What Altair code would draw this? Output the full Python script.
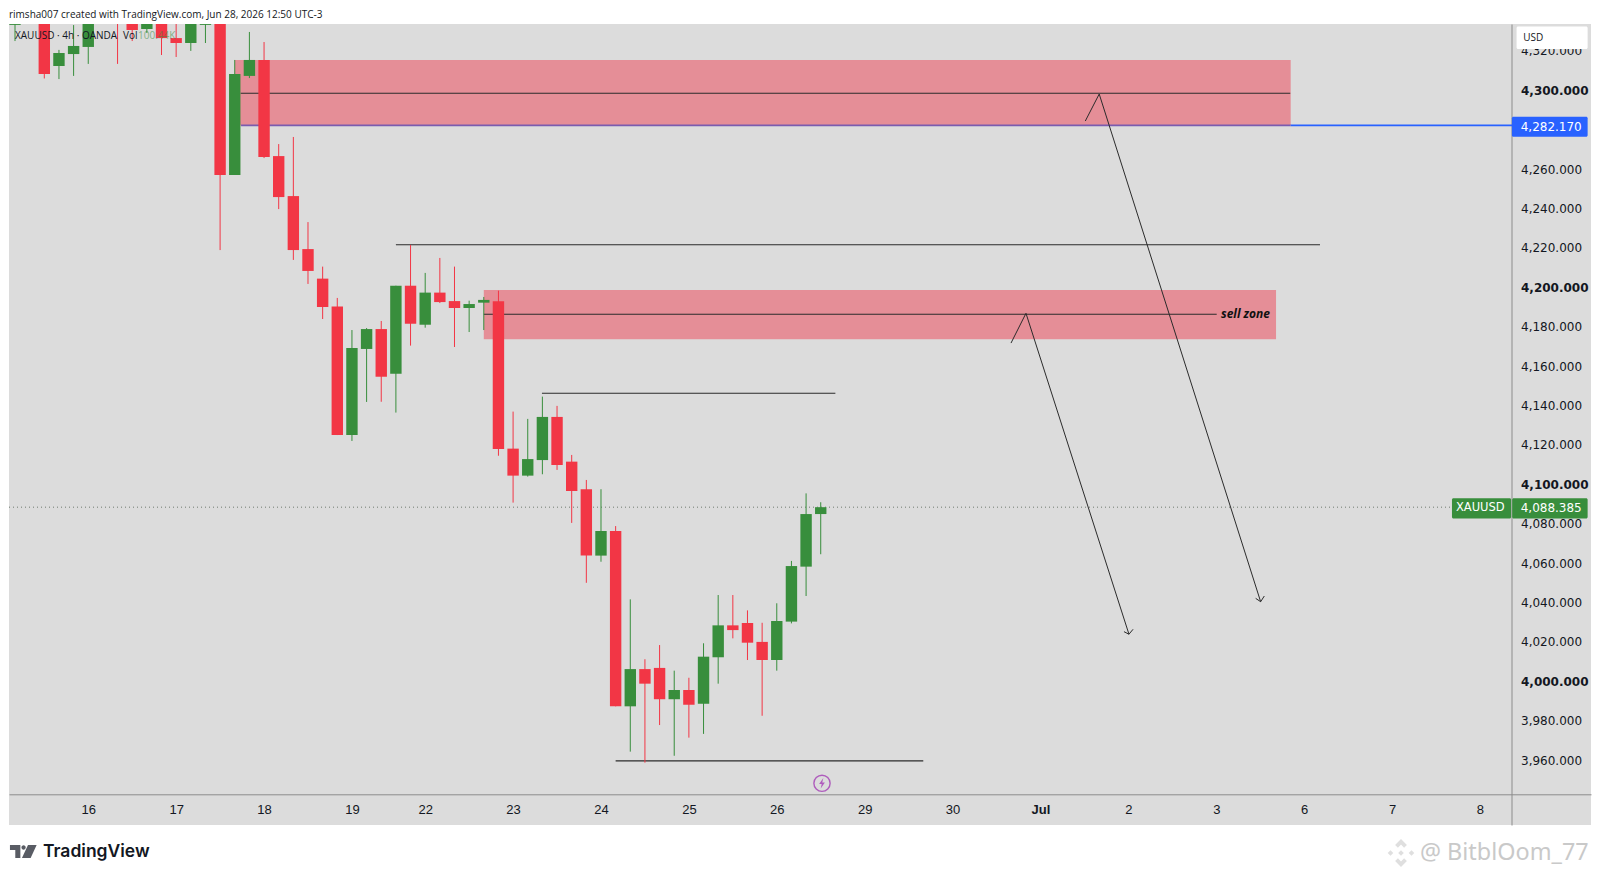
import json
import altair as alt
import pandas as pd

# ---- Candles (4h bars; prices) ----
bars = list(range(56))
opens = [4333.2, 4345, 4350, 4312.3, 4318.4, 4322.0, 4345, 4342, 4338, 4331.1, 4340, 4326.5, 4324.0, 4333.2,
         4345, 4257.0, 4307.3, 4315.4, 4266.6, 4246.3, 4219.4, 4204.4, 4190.2, 4125.0, 4168.7, 4178.8, 4156.1, 4200.8,
         4181.0, 4197.3, 4193.0, 4189.5, 4192.2, 4192.9, 4118.1, 4104.4, 4112.3, 4134.2, 4111.5, 4097.5, 4063.8, 4076.3,
         3987.3, 4006.2, 4006.8, 3990.9, 3995.6, 3988.6, 4012.2, 4028.4, 4029.6, 4020.0, 4010.8, 4030.3, 4058.2, 4084.9]
closes = [4340, 4340, 4308.3, 4318.9, 4322.5, 4338, 4340, 4336, 4330.6, 4338, 4326.5, 4324.0, 4337, 4336,
          4257.0, 4308.3, 4315.4, 4266.1, 4245.8, 4218.9, 4208.3, 4190.0, 4125.0, 4169.2, 4178.8, 4154.6, 4200.8, 4181.5,
          4197.3, 4192.5, 4189.5, 4191.5, 4193.6, 4117.9, 4104.4, 4112.8, 4134.2, 4109.8, 4096.6, 4063.8, 4076.3, 3987.3,
          4006.2, 3998.8, 3990.9, 3995.6, 3988.1, 4012.5, 4028.4, 4026.0, 4019.6, 4010.8, 4030.6, 4058.5, 4084.9, 4088.385]
highs = [4345, 4348, 4355, 4320.5, 4333.1, 4342, 4348, 4345, 4342, 4341, 4344, 4336, 4340, 4339,
         4350, 4315.4, 4329.6, 4324.5, 4272.7, 4276.3, 4233.1, 4210.5, 4194.6, 4178.3, 4179.3, 4182.9, 4200.8, 4221.5,
         4207.3, 4214.9, 4210.5, 4193.2, 4195.1, 4198.3, 4136.9, 4133.2, 4144.5, 4139.8, 4114.9, 4102.2, 4097.5, 4078.8,
         4041.6, 4011.2, 4018.4, 4005.4, 4001.8, 4019.3, 4043.8, 4043.8, 4036.0, 4029.7, 4039.6, 4061.1, 4095.4, 4090.9]
lows = [4325.0, 4336, 4306.0, 4305.7, 4307.3, 4313.4, 4336, 4313.4, 4325.0, 4329.1, 4317.9, 4316.9, 4320.0, 4324.0,
        4218.9, 4257.0, 4306.2, 4265.6, 4239.7, 4213.9, 4201.7, 4183.9, 4125.0, 4122.0, 4141.8, 4141.9, 4136.4, 4170.4,
        4179.5, 4192.0, 4169.7, 4177.3, 4178.3, 4114.5, 4090.7, 4103.9, 4105.1, 4107.3, 4080.4, 4050.0, 4060.7, 3987.3,
        3964.3, 3958.7, 3977.8, 3962.2, 3971.4, 3973.3, 3998.8, 4021.8, 4010.8, 3982.5, 4005.4, 4029.4, 4043.3, 4064.5]

# ---- Axes ----
tick_bars = [5, 11, 17, 23, 28, 34, 40, 46, 52, 58, 64, 70, 76, 82, 88, 94, 100]
tick_labels = ["16", "17", "18", "19", "22", "23", "24", "25", "26", "29", "30", "Jul", "2", "3", "6", "7", "8"]
price_ticks = [3960, 3980, 4000, 4020, 4040, 4060, 4080, 4100, 4120, 4140, 4160, 4180, 4200, 4220,
               4240, 4260, 4300, 4320]
x_domain = [-0.41, 107.58]
y_domain = [3927.06, 4333.65]

# ---- Drawings ----
zone_x = [15.0, 32.0]
zone_x2 = [87.08, 86.08]
zone_top = [4315.4, 4198.6]
zone_bottom = [4282.17, 4173.6]

line_x = [15.4, 32.0, 26.0, 35.97, 41.0]
line_x2 = [87.05, 82.03, 89.08, 56.0, 62.0]
line_y = [4298.5, 4186.3, 4221.6, 4146.2, 3959.6]

arrow_group = ["a", "a", "a", "ah", "ah", "ah", "b", "b", "b", "bh", "bh", "bh"]
arrow_x = [73.06, 74.01, 85.03, 84.69, 85.03, 85.28, 67.99, 69.01, 76.04, 75.7, 76.04, 76.32]
arrow_y = [4284.4, 4298.1, 4040.4, 4042.1, 4040.4, 4043.3, 4171.7, 4186.8, 4023.9, 4025.2, 4023.9, 4026.4]

last_price = 4088.385
order_price = 4282.17

GREEN, RED, BLUE = "#388e3c", "#f23645", "#2962ff"
INK = "#131722"
FONT = "DejaVu Sans"

candles = pd.DataFrame({"bar": bars, "o": opens, "c": closes, "h": highs, "l": lows})
candles["dir"] = ["up" if c >= o else "down" for o, c in zip(opens, closes)]
zones = pd.DataFrame({"x": zone_x, "x2": zone_x2, "t": zone_top, "b": zone_bottom})
hlines = pd.DataFrame({"x": line_x, "x2": line_x2, "y": line_y})
arrows = pd.DataFrame({"g": arrow_group, "x": arrow_x, "y": arrow_y, "n": list(range(len(arrow_x)))})

xs = alt.Scale(domain=x_domain, nice=False, zero=False, padding=0)
ys = alt.Scale(domain=y_domain, nice=False, zero=False)
color = alt.Color("dir:N", scale=alt.Scale(domain=["up", "down"], range=[GREEN, RED]), legend=None)

label_expr = (
    f"{json.dumps(tick_labels)}[indexof({json.dumps(tick_bars)}, datum.value)]"
)

x_axis = alt.Axis(
    orient="bottom", offset=-30.7, values=tick_bars, labelExpr=label_expr, grid=False, title=None,
    ticks=False, domainColor="#8c8c8c", domainWidth=1, labelColor=INK, labelFont="Liberation Sans",
    labelFontSize=13, labelPadding=9, labelOverlap=False, labelFlush=False,
    labelFontWeight={"condition": {"test": "datum.value === 70", "value": "bold"}, "value": "normal"},
)
y_axis = alt.Axis(
    orient="right", offset=-79.5, values=price_ticks, format=",.3f", grid=False, title=None,
    ticks=False, domainColor="#8c8c8c", domainWidth=1, labelColor=INK, labelFont=FONT,
    labelFontSize=12, labelPadding=9, labelOverlap=False, labelFlush=False,
    labelFontWeight={"condition": {"test": "datum.value % 100 === 0", "value": "bold"}, "value": "normal"},
)


def XF(field="x"):
    return alt.X(f"{field}:Q", scale=xs, axis=x_axis)


def YF(field="y"):
    return alt.Y(f"{field}:Q", scale=ys, axis=y_axis)


zone_layer = alt.Chart(zones).mark_rect(color="#e58e97").encode(
    x=XF(), x2="x2:Q", y=YF("t"), y2="b:Q"
)
line_layer = alt.Chart(hlines).mark_rule(color="#2b2b2b", strokeWidth=1.1).encode(x=XF(), x2="x2:Q", y=YF())
last_line = alt.Chart(pd.DataFrame({"x": [x_domain[0]], "x2": [98.09], "y": [last_price]})).mark_rule(
    color="#6f7a6f", strokeWidth=1, strokeDash=[1, 3]
).encode(x=XF(), x2="x2:Q", y=YF())
order_in = alt.Chart(pd.DataFrame({"x": [15.43], "x2": [87.08], "y": [order_price]})).mark_rule(
    color="#7a5caf", strokeWidth=1.6
).encode(x=XF(), x2="x2:Q", y=YF())
order_out = alt.Chart(pd.DataFrame({"x": [87.08], "x2": [102.2], "y": [order_price]})).mark_rule(
    color=BLUE, strokeWidth=1.6
).encode(x=XF(), x2="x2:Q", y=YF())

wicks = alt.Chart(candles).mark_rule(strokeWidth=1, clip=True).encode(
    x=XF("bar"), y=YF("l"), y2="h:Q", color=color,
)
bodies = alt.Chart(candles).mark_bar(size=11.4, clip=True).encode(
    x=XF("bar"), y=YF("o"), y2="c:Q", color=color,
)

arrow_layer = alt.Chart(arrows).mark_line(color="#2b2b2b", strokeWidth=1).encode(
    x=XF(), y=YF(), detail="g:N", order="n:Q"
)


def tag(x, x2, top, bottom, fill):
    return alt.Chart(pd.DataFrame({"x": [x], "x2": [x2], "t": [top], "b": [bottom]})).mark_rect(
        color=fill, cornerRadius=1.5
    ).encode(x=XF(), x2="x2:Q", y=YF("t"), y2="b:Q")


def price_text(txt, x, y, **kw):
    return alt.Chart(pd.DataFrame({"x": [x], "y": [y], "s": [txt]})).mark_text(
        align="left", baseline="middle", **kw
    ).encode(x=XF(), y=YF(), text="s:N")


def label(txt, px, py, **kw):
    return alt.Chart(pd.DataFrame({"s": [txt]})).mark_text(baseline="middle", **kw).encode(
        x=alt.value(px), y=alt.value(py), text="s:N"
    )


def glyph(path, px, py, size, **kw):
    return alt.Chart(pd.DataFrame({"s": [1]})).mark_point(shape=path, **kw).encode(
        x=alt.value(px), y=alt.value(py), size=alt.value(size)
    )


LOGO = ("M-1,-0.49 L-0.22,-0.49 L-0.22,0.49 L-0.6,0.49 L-0.6,-0.12 L-1,-0.12 Z "
        "M-0.14,-0.3 a0.16,0.16 0 1,0 0.32,0 a0.16,0.16 0 1,0 -0.32,0 Z "
        "M0.35,-0.49 L1,-0.49 L0.55,0.49 L-0.1,0.49 Z")
BOLT = "M0.25,-1 L-0.55,0.15 L-0.05,0.15 L-0.25,1 L0.55,-0.15 L0.05,-0.15 Z"
BINANCE = ("M0,-1 L0.42,-0.58 L0.22,-0.38 L0,-0.6 L-0.22,-0.38 L-0.42,-0.58 Z "
           "M0,1 L0.42,0.58 L0.22,0.38 L0,0.6 L-0.22,0.38 L-0.42,0.58 Z "
           "M-0.75,-0.2 L-0.55,0 L-0.75,0.2 L-0.95,0 Z M0.75,-0.2 L0.95,0 L0.75,0.2 L0.55,0 Z "
           "M0,-0.2 L0.2,0 L0,0.2 L-0.2,0 Z")

chart = alt.layer(
    zone_layer,
    last_line,
    line_layer,
    order_in,
    order_out,
    wicks,
    bodies,
    arrow_layer,
    price_text("sell zone", 82.32, 4186.3, font="Open Sans", fontSize=12, fontWeight="bold",
               fontStyle="italic", color="#111111"),
    tag(102.18, 107.35, 4286.6, 4276.4, BLUE),
    price_text("4,282.170", 102.78, 4281.5, font=FONT, fontSize=12, color="#ffffff"),
    tag(98.09, 102.13, 4092.9, 4082.7, GREEN),
    tag(102.2, 107.35, 4092.9, 4082.7, GREEN),
    price_text("XAUUSD", 98.36, 4087.8, font=FONT, fontSize=11.5, color="#ffffff"),
    price_text("4,088.385", 102.78, 4087.8, font=FONT, fontSize=12, color="#ffffff"),
    tag(102.5, 107.35, 4332.4, 4320.9, "#ffffff"),
    price_text("USD", 102.95, 4326.7, font="Open Sans", fontSize=10, color=INK),
    glyph("circle", 813, 759.3, 264, filled=False, stroke="#9c27b0", strokeWidth=1.4),
    glyph(BOLT, 813, 759.3, 110, filled=True, fill="#9c27b0", strokeWidth=0),
    label("XAUUSD · 4h · OANDA", 6, 12, align="left", font="Open Sans", fontSize=10, color=INK),
    label("Vol", 114, 12, align="left", font="Open Sans", fontSize=10, color=INK),
    label("100.44K", 129, 12, align="left", font="Open Sans", fontSize=10, color=GREEN, opacity=0.55),
    label("rimsha007 created with TradingView.com, Jun 28, 2026 12:50 UTC-3", 0, -9, align="left",
          font="Open Sans", fontSize=10, color=INK),
    glyph(LOGO, 14.3, 827.5, 713, filled=True, fill="#131722", strokeWidth=0),
    label("TradingView", 34, 828, align="left", font="Inter", fontSize=17.5, fontWeight=600, color="#131722"),
    glyph(BINANCE, 1392, 829, 784, filled=True, fill="#d2d2d2", strokeWidth=0),
    label("@ BitblOom_77", 1411, 829, align="left", font="Noto Sans", fontSize=23.4, color="#c9c9c9"),
).properties(
    width=1582,
    height=801,
    padding={"left": 1, "top": 16, "right": 1, "bottom": 44},
    autosize=alt.AutoSizeParams(type="none"),
    background="#ffffff",
).configure_view(fill="#dcdcdc", strokeWidth=0)

chart.save("out.html", embed_options={"renderer": "svg", "actions": False})
